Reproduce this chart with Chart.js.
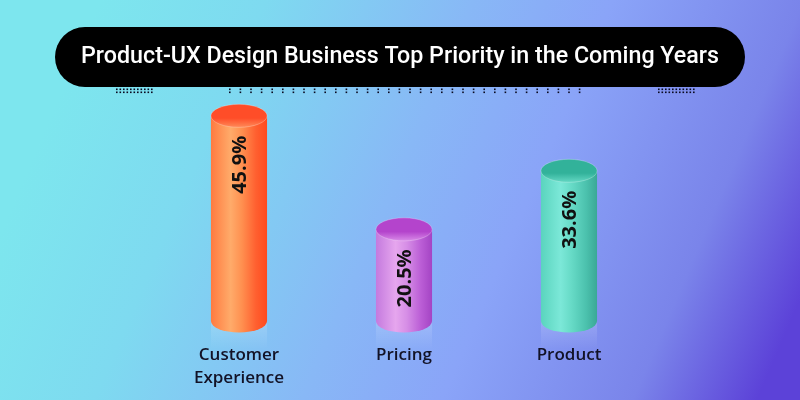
<!DOCTYPE html>
<html>
<head>
<meta charset="utf-8">
<script src="https://cdn.jsdelivr.net/npm/chart.js@4/dist/chart.umd.min.js"></script>
<style>
html,body{margin:0;padding:0;width:800px;height:400px;overflow:hidden;}
canvas{display:block;}
</style>
</head>
<body>
<canvas id="c" width="800" height="400"></canvas>
<script>
const titleText = "Product-UX Design Business Top Priority in the Coming Years";
const categories = [["Customer", "Experience"], "Pricing", "Product"];
const values = [45.9, 20.5, 33.6];
const valueLabels = ["45.9%", "20.5%", "33.6%"];

const palettes = [
  { body: ["#ff7a40", "#ffab6a", "#ff9050", "#ff6030", "#ff4a1e"], top: ["#ff4d28", "#ff8a58"] },
  { body: ["#c47ade", "#e6a6ee", "#d68ee6", "#bb5ed6", "#a444c4"], top: ["#b444cc", "#d88ae8"] },
  { body: ["#5ad4be", "#7ce8d8", "#66dac6", "#4cc2ae", "#3aa896"], top: ["#32b29a", "#64d8c4"] }
];

const bgPlugin = {
  id: 'bg',
  beforeDraw(chart) {
    const ctx = chart.ctx;
    const W = chart.width, H = chart.height;
    const g = ctx.createLinearGradient(100, 0, 800, 300);
    g.addColorStop(0, "#7de6ee");
    g.addColorStop(0.2, "#7edaf0");
    g.addColorStop(0.45, "#88b8f6");
    g.addColorStop(0.62, "#8aa4f8");
    g.addColorStop(0.85, "#7a84ea");
    g.addColorStop(1, "#5c42d8");
    ctx.save();
    ctx.fillStyle = g;
    ctx.fillRect(0, 0, W, H);

    const px = 55, py = 27, pw = 690, ph = 60, r = 30;
    ctx.fillStyle = "#000";
    ctx.beginPath();
    ctx.roundRect(px, py, pw, ph, r);
    ctx.fill();

    ctx.fillStyle = "#0a0a20";
    const rows = [88.5, 91.5];
    for (const yy of rows) {
      for (let x = 116; x <= 151; x += 3.5) ctx.fillRect(x, yy, 1.6, 1.6);
      for (let x = 658; x <= 693; x += 3.5) ctx.fillRect(x, yy, 1.6, 1.6);
      for (let x = 229; x <= 581; x += 10.6) ctx.fillRect(x, yy, 1.6, 1.6);
    }

    let fs = 20;
    const fam = 'Roboto, "Open Sans", sans-serif';
    ctx.font = `500 ${fs}px ${fam}`;
    const w = ctx.measureText(titleText).width;
    fs = fs * 638 / w;
    ctx.font = `500 ${fs}px ${fam}`;
    ctx.fillStyle = "#ffffff";
    ctx.textAlign = "center";
    ctx.textBaseline = "middle";
    ctx.fillText(titleText, 400, 57);
    ctx.restore();
  }
};

const cylPlugin = {
  id: 'cyl',
  afterDatasetsDraw(chart) {
    const ctx = chart.ctx;
    const meta = chart.getDatasetMeta(0);
    const xs = chart.scales.x;
    meta.data.forEach((bar, i) => {
      const p = bar.getProps(['x', 'y', 'base', 'width'], true);
      const cx = p.x, top = p.y, base = p.base, rx = p.width / 2, ry = 11.5;
      const pal = palettes[i % palettes.length];
      ctx.save();
      const sh = ctx.createLinearGradient(0, base, 0, base + 28);
      sh.addColorStop(0, "rgba(255,255,255,0.18)");
      sh.addColorStop(1, "rgba(255,255,255,0)");
      ctx.fillStyle = sh;
      ctx.fillRect(cx - rx, base, rx * 2, 28);

      const bg = ctx.createLinearGradient(cx - rx, 0, cx + rx, 0);
      const st = [0, 0.35, 0.55, 0.8, 1];
      pal.body.forEach((c, k) => bg.addColorStop(st[k], c));
      ctx.fillStyle = bg;
      ctx.beginPath();
      ctx.moveTo(cx - rx, top);
      ctx.lineTo(cx - rx, base);
      ctx.ellipse(cx, base, rx, ry, 0, Math.PI, 0, true);
      ctx.lineTo(cx + rx, top);
      ctx.closePath();
      ctx.fill();

      const tg = ctx.createLinearGradient(0, top - ry, 0, top + ry);
      tg.addColorStop(0, pal.top[0]);
      tg.addColorStop(0.6, pal.top[0]);
      tg.addColorStop(1, pal.top[1]);
      ctx.fillStyle = tg;
      ctx.beginPath();
      ctx.ellipse(cx, top, rx, ry, 0, 0, Math.PI * 2);
      ctx.fill();
      ctx.strokeStyle = "rgba(255,255,255,0.25)";
      ctx.lineWidth = 1;
      ctx.stroke();

      ctx.translate(cx, top + 20);
      ctx.rotate(-Math.PI / 2);
      ctx.font = 'bold 20px "Open Sans", Lato, sans-serif';
      ctx.fillStyle = "#111111";
      ctx.textAlign = "right";
      ctx.textBaseline = "middle";
      ctx.fillText(valueLabels[i], 0, 1);
      ctx.restore();

      ctx.save();
      ctx.font = '600 17px "Open Sans", Lato, sans-serif';
      ctx.fillStyle = "#121226";
      ctx.textAlign = "center";
      ctx.textBaseline = "middle";
      const lab = categories[i];
      const lines = Array.isArray(lab) ? lab : [lab];
      lines.forEach((ln, k) => ctx.fillText(ln, xs.getPixelForValue(i), 355 + k * 23));
      ctx.restore();
    });
  }
};

new Chart(document.getElementById('c'), {
  type: 'bar',
  data: {
    labels: categories,
    datasets: [{
      data: values,
      backgroundColor: 'rgba(0,0,0,0)',
      borderWidth: 0,
      barPercentage: 0.34,
      categoryPercentage: 1
    }]
  },
  options: {
    responsive: false,
    animation: false,
    devicePixelRatio: 1,
    layout: { padding: { left: 156.5, right: 148.5, top: 97.5, bottom: 79 } },
    scales: {
      x: { display: false },
      y: { display: false, min: 0, max: 50 }
    },
    plugins: { legend: { display: false }, tooltip: { enabled: false }, title: { display: false } }
  },
  plugins: [bgPlugin, cylPlugin]
});
</script>
</body>
</html>
